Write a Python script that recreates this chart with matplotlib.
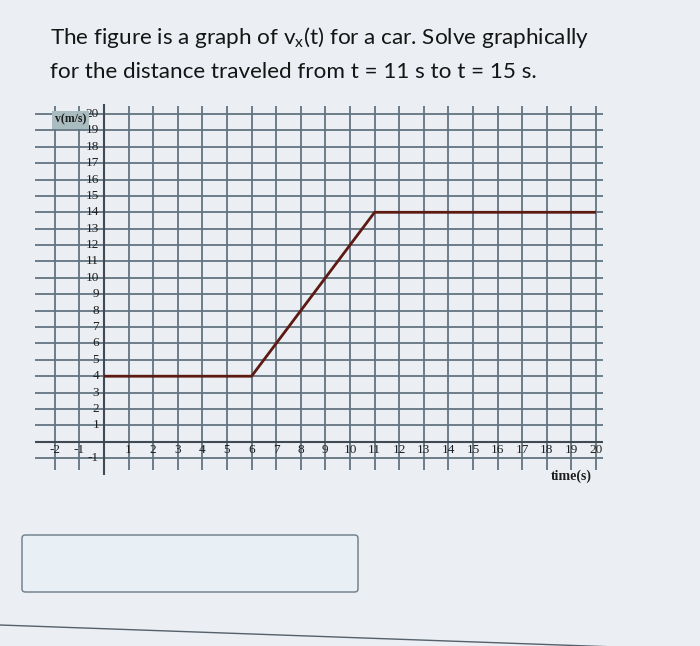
import numpy as np
import matplotlib
matplotlib.use("Agg")
from matplotlib import pyplot as plt
from matplotlib.patches import FancyBboxPatch

# velocity graph data
t_pts = [0, 6, 11, 20]
v_pts = [4, 4, 14, 14]

x_ticks = list(range(-2, 0)) + list(range(1, 21))
y_ticks = list(range(1, 21))
y_neg_ticks = [-1]

title_lines = ["The figure is a graph of v$_\\mathregular{x}$(t) for a car. Solve graphically",
               "for the distance traveled from t = 11 s to t = 15 s."]

fig = plt.figure(figsize=(7, 6.46), dpi=100)
fig.patch.set_facecolor("#ebeff3")

# title text
for i, line in enumerate(title_lines):
    fig.text(50/700, 1 - (38 + 34*i)/646, line, fontsize=16.2, family="Lato",
             va="center", ha="left", color="#151515")

# graph area
ax = fig.add_axes([0.0431, 0.240, 0.861, 0.609])
ax.set_xlim(-3, 21.5)
ax.set_ylim(-3, 21)
ax.axis("off")

grid_col = "#627380"
ax.hlines(list(range(-1, 21)), -2.8, 20.3, color=grid_col, lw=1.3, zorder=1)
ax.vlines(list(range(-2, 21)), -1.7, 20.5, color=grid_col, lw=1.3, zorder=1)

# axes
ax.hlines(0, -2.8, 20.3, color="#3f4a54", lw=1.5, zorder=2)
ax.vlines(0, -2.0, 20.6, color="#3f4a54", lw=1.5, zorder=2)

ser = "Liberation Serif"
for y in y_ticks + y_neg_ticks:
    ax.text(-0.2, y, str(y), ha="right", va="center", fontsize=9.5,
            family=ser, color="#1e1e1e", zorder=3)
for x in x_ticks:
    ax.text(x, -0.12, str(x), ha="center", va="top", fontsize=9.5,
            family=ser, color="#1e1e1e", zorder=3)

ax.text(-1.35, 19.65, "v(m/s)", ha="center", va="center", fontsize=8.5,
        family=ser, weight="bold", color="#1e1e1e", zorder=3,
        bbox=dict(boxstyle="square,pad=0.25", fc="#a9bdc0", ec="none"))
ax.text(19.0, -2.1, "time(s)", ha="center", va="center", fontsize=10,
        family=ser, weight="bold", color="#1e1e1e", zorder=3)

ax.plot(t_pts, v_pts, color="#5c1a12", lw=2.0, zorder=4,
        solid_capstyle="butt")

# answer box
box = FancyBboxPatch((22/700, 1 - 592/646), 336/700, 57/646,
                     boxstyle="round,pad=0,rounding_size=0.005",
                     transform=fig.transFigure, fc="#e8f0f5", ec="#6b7a85", lw=1.0)
fig.patches.append(box)

fig.add_artist(plt.Line2D([0, 1], [1 - 625/646, 1 - 650/646],
                          transform=fig.transFigure, color="#55606a", lw=1.0))

fig.savefig("out.png", dpi=100, facecolor=fig.get_facecolor())
